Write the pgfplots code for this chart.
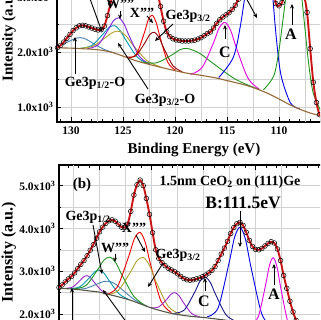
\documentclass[border=0pt]{standalone}
\usepackage{fontspec}
\setmainfont{Liberation Serif}
\usepackage{pgfplots}
\usepackage{pgfplotstable}
\pgfplotsset{compat=1.18}
\usetikzlibrary{arrows.meta}

\definecolor{envred}{RGB}{205,20,20}
\definecolor{bgbrown}{RGB}{150,105,55}
\definecolor{bggray}{RGB}{85,85,70}
\definecolor{steel}{RGB}{70,130,180}
\definecolor{tealc}{RGB}{0,150,175}
\definecolor{violetc}{RGB}{130,30,220}
\definecolor{olivec}{RGB}{175,160,40}
\definecolor{redc}{RGB}{240,0,0}
\definecolor{darkredc}{RGB}{140,0,0}
\definecolor{greenc}{RGB}{30,150,30}
\definecolor{magc}{RGB}{230,0,230}
\definecolor{bluec}{RGB}{0,0,230}
\definecolor{navyc}{RGB}{25,25,140}
\definecolor{purplec}{RGB}{160,40,200}

\pgfplotstableread{
E V
131.3 2080
131.0 2120
130.7 2180
130.4 2250
130.1 2320
129.8 2390
129.5 2440
129.2 2475
128.9 2485
128.6 2475
128.3 2455
128.0 2435
127.7 2415
127.4 2400
127.1 2405
126.8 2470
126.5 2660
126.2 2880
125.9 3100
125.6 3270
125.3 3340
125.0 3330
124.7 3240
124.4 3130
124.1 3050
123.8 3000
123.5 3010
123.2 3060
122.9 3170
122.6 3300
122.3 3380
122.0 3330
121.7 3100
121.4 2830
121.1 2560
120.8 2370
120.5 2280
120.2 2240
119.9 2220
119.6 2210
119.3 2200
119.0 2200
118.7 2200
118.4 2205
118.1 2215
117.8 2235
117.5 2260
117.2 2295
116.9 2335
116.6 2365
116.3 2435
116.0 2520
115.7 2585
115.4 2635
115.1 2675
114.8 2715
114.5 2775
114.2 2850
113.9 2960
113.6 3090
113.3 3260
113.0 3520
112.7 3860
112.4 4180
112.1 4420
111.8 4570
111.5 4570
111.2 4330
110.9 3850
110.6 3280
110.3 2880
110.0 2840
109.7 2900
109.4 3150
109.1 3500
108.8 3780
108.5 3860
108.2 3700
107.9 3400
107.6 3050
107.3 2720
107.0 2060
106.7 1450
106.4 1080
106.1 860
105.8 800
}\topdata

\pgfplotstableread{
E V
128.9 2620
128.6 2680
128.3 2750
128.0 2820
127.7 2880
127.4 2960
127.1 3060
126.8 3160
126.5 3250
126.2 3360
125.9 3490
125.6 3620
125.3 3770
125.0 3920
124.7 4030
124.4 4120
124.1 4180
123.8 4200
123.5 4170
123.2 4100
122.9 4030
122.6 4020
122.3 4100
122.0 4400
121.7 4780
121.4 5020
121.1 5130
120.8 5000
120.5 4700
120.2 4330
119.9 3900
119.6 3500
119.3 3300
119.0 3200
118.7 3130
118.4 3070
118.1 3030
117.8 2990
117.5 2940
117.2 2880
116.9 2830
116.6 2800
116.3 2790
116.0 2800
115.7 2820
115.4 2840
115.1 2870
114.8 2910
114.5 2960
114.2 3020
113.9 3110
113.6 3250
113.3 3400
113.0 3540
112.7 3700
112.4 3880
112.1 4020
111.8 4110
111.5 4140
111.2 4070
110.9 3910
110.6 3720
110.3 3580
110.0 3510
109.7 3500
109.4 3530
109.1 3590
108.8 3650
108.5 3690
108.2 3660
107.9 3520
107.6 3250
107.3 2900
107.0 2600
106.7 2300
106.4 2050
106.1 1850
105.8 1680
105.5 1560
105.2 1480
104.9 1440
}\botdata

\pgfplotsset{
  xpsaxis/.style={
    scale only axis, x dir=reverse,
    axis line style={line width=1.3pt},
    tick style={line width=0.8pt, black},
    major tick length=4.5pt, minor tick length=2.5pt,
    xtick={110,115,120,125,130},
    minor xtick={103,104,...,132},
    minor y tick num=1,
    xmajorgrids=true, ymajorgrids=true, yminorgrids=true,
    grid style={line width=0.4pt, black!18},
    minor grid style={line width=0.4pt, black!18},
    extra x ticks={107.5,112.5,117.5,122.5,127.5},
    extra x tick labels={},
    extra x tick style={grid=major, major tick length=0pt},
    tick label style={font=\fontsize{11.5}{13}\selectfont\bfseries},
    label style={font=\fontsize{15}{17}\selectfont\bfseries},
    every axis plot/.append style={line join=round},
  },
  comp/.style={smooth, line width=0.9pt, no markers},
  env/.style={smooth, color=envred, line width=1.9pt, no markers},
  dat/.style={only marks, mark=o, mark size=2.4pt, mark options={line width=0.5pt, black}},
}

\begin{document}
\begin{tikzpicture}
\useasboundingbox (0pt,0pt) rectangle (320pt,320pt);
\clip (0pt,0pt) rectangle (320pt,320pt);

% ---------------- top panel (a) ----------------
\begin{axis}[xpsaxis,
  at={(57pt,198pt)}, anchor=south west,
  width=274pt, height=174.5pt,
  xmin=105, xmax=131.35, ymin=727, ymax=3900,
  xticklabels={110,115,120,125,130},
  xticklabel style={yshift=-1pt},
  ytick={1000,2000,3000},
  yticklabels={1.0x10\textsuperscript{3},2.0x10\textsuperscript{3},3.0x10\textsuperscript{3}},
  xlabel={Binding Energy (eV)},
  xlabel style={yshift=-2pt},
  ylabel={Intensity (a.u.)},
  ylabel style={at={(axis description cs:-0.175,0.5)}, anchor=center},
]
\addplot[comp, color=steel] coordinates {(131.35,2099) (130.2,2192) (129.65,2242) (129.1,2261) (128.55,2232) (128.0,2171) (126.9,2054) (125.8,1980)};
\addplot[comp, color=tealc] coordinates {(129.1,2066) (128.0,2118) (126.9,2330) (126.35,2446) (125.8,2478) (125.25,2381) (124.7,2207) (123.6,1901) (122.5,1780)};
\addplot[comp, color=olivec] coordinates {(129.2,2067) (127.9,2106) (126.6,2275) (125.95,2360) (125.3,2375) (124.65,2279) (124.0,2116) (122.7,1843) (121.4,1728)};
\addplot[comp, color=violetc] coordinates {(128.4,2061) (127.4,2129) (126.4,2414) (125.9,2573) (125.4,2621) (124.9,2509) (124.4,2289) (123.4,1913) (122.4,1777)};
\addplot[comp, color=redc] coordinates {(124.45,1896) (123.7,1961) (122.95,2349) (122.575,2582) (122.2,2670) (121.825,2545) (121.45,2277) (120.7,1815) (119.95,1668)};
\addplot[comp, color=darkredc] coordinates {(124.7,1911) (123.8,1927) (122.9,2165) (122.45,2311) (122.0,2360) (121.55,2268) (121.1,2079) (120.2,1752) (119.3,1639)};
\addplot[comp, color=greenc] coordinates {(123.3,1821) (121.8,1802) (120.3,1946) (119.55,2039) (118.8,2064) (117.65,1977) (116.5,1816) (114.2,1505) (111.9,1317)};
\addplot[comp, color=magc] coordinates {(118.5,1593) (117.4,1716) (116.3,2167) (115.75,2441) (115.2,2538) (114.65,2393) (114.1,2078) (113.0,1529) (111.9,1324)};
\addplot[comp, color=bluec] coordinates {(115.8,1534) (114.4,1900) (113.7,2491) (113.0,3386) (112.3,4260) (111.6,4588) (111.15,4164) (110.7,3218) (110.25,2240) (109.8,1572) (108.9,1074) (108.0,965)};
\addplot[comp, color=greenc] coordinates {(111.5,1310) (110.5,1567) (110.0,2038) (109.5,2763) (109.0,3472) (108.5,3753) (108.05,3391) (107.6,2600) (107.15,1793) (106.7,1247) (105.8,862)};
\addplot[comp, color=bgbrown, line width=1.1pt] coordinates {(131.35,2075) (130,2070) (129,2060) (128,2050) (127,2030) (126,1990) (125,1925) (124,1855) (123,1800) (122,1750) (121,1705) (120,1660) (119,1620) (118,1590) (117,1560) (116,1525) (115,1480) (114,1435) (113,1385) (112,1320) (111,1240) (110,1145) (109,1045) (108,960) (107,890) (106,840) (105,800)};
\addplot[env] table[x=E,y=V] {\topdata};
\addplot[dat] table[x=E,y=V] {\topdata};
\end{axis}

% ---------------- bottom panel (b) ----------------
\begin{axis}[xpsaxis,
  at={(59pt,-19.7pt)}, anchor=south west,
  width=269.4pt, height=174.6pt,
  xmin=103, xmax=128.9, ymin=1400, ymax=5480,
  xticklabels={},
  ytick={2000,3000,4000,5000},
  yticklabels={2.0x10\textsuperscript{3},3.0x10\textsuperscript{3},4.0x10\textsuperscript{3},5.0x10\textsuperscript{3}},
  ylabel={Intensity (a.u.)},
  ylabel style={at={(axis description cs:-0.186,0.5)}, anchor=center, font=\fontsize{16}{18}\selectfont\bfseries},
]
\addplot[comp, color=purplec] coordinates {(128.3,2600) (127.6,2629) (126.9,2779) (126.55,2866) (126.2,2896) (125.85,2844) (125.5,2737) (124.8,2545) (124.1,2460)};
\addplot[comp, color=tealc] coordinates {(127.85,2593) (126.9,2637) (125.95,2854) (125.475,2983) (125.0,3030) (124.525,2941) (124.05,2768) (123.1,2466) (122.15,2336)};
\addplot[comp, color=steel] coordinates {(127.6,2585) (126.4,2594) (125.2,2704) (124.6,2760) (124.0,2760) (123.4,2688) (122.8,2564) (121.6,2326) (120.4,2179)};
\addplot[comp, color=greenc] coordinates {(127.45,2589) (126.3,2668) (125.15,3049) (124.575,3261) (124.0,3330) (123.425,3193) (122.85,2914) (121.7,2412) (120.55,2190)};
\addplot[comp, color=redc] coordinates {(124.4,2444) (123.3,2628) (122.2,3347) (121.65,3762) (121.1,3909) (120.6,3668) (120.1,3162) (119.1,2303) (118.1,2034)};
\addplot[comp, color=olivec] coordinates {(124.4,2438) (123.2,2552) (122.0,2993) (121.4,3246) (120.8,3322) (120.2,3138) (119.6,2771) (118.4,2178) (117.2,1990)};
\addplot[comp, color=purplec] coordinates {(120.15,2151) (119.35,2161) (118.55,2341) (118.15,2460) (117.75,2500) (117.35,2426) (116.95,2271) (116.15,2013) (115.35,1933)};
\addplot[comp, color=navyc] coordinates {(117.85,2017) (116.85,2095) (115.85,2513) (115.35,2765) (114.85,2865) (114.35,2738) (113.85,2461) (112.85,1983) (111.85,1825)};
\addplot[comp, color=bluec] coordinates {(114.65,1934) (113.6,2146) (112.55,3194) (112.025,3789) (111.5,4030) (110.975,3747) (110.45,3105) (109.4,2002) (108.35,1667)};
\addplot[comp, color=magc] coordinates {(110.46,1772) (109.74,1937) (109.02,2699) (108.66,3143) (108.3,3318) (107.94,3099) (107.58,2613) (106.86,1778) (106.14,1527)};
\addplot[comp, color=bggray, line width=1.1pt] coordinates {(128.9,2600) (128,2590) (127,2570) (126,2540) (125,2510) (124,2450) (123,2390) (122,2320) (121,2230) (120,2140) (119,2070) (118,2010) (117,1970) (116,1940) (115,1920) (114,1890) (113,1860) (112,1820) (111,1780) (110,1730) (109,1680) (108,1620) (107,1560) (106,1500) (105,1450) (104,1400) (103,1370)};
\addplot[env] table[x=E,y=V] {\botdata};
\addplot[dat] table[x=E,y=V] {\botdata};
\end{axis}

% ---------------- annotations ----------------
\begin{scope}[x=1pt,y=1pt]
\tikzset{lab/.style={font=\fontsize{14}{16}\selectfont\bfseries, inner sep=0pt},
         arr/.style={-{Stealth[length=4.5pt,width=4pt]}, line width=0.9pt, black}}
% top panel
\node[lab] at (120,316) {W''''};
\draw[arr] (120,309) -- (120,301);
\node[lab] at (142,307) {X''''};
\draw[arr] (147,304) -- (153,297);
\node[lab] at (188,304) {Ge3p\textsubscript{3/2}};
\draw[arr] (173,296) -- (155,279);
\node[lab, font=\fontsize{16}{18}\selectfont\bfseries] at (225,268) {C};
\draw[arr] (225,281) -- (225,295);
\node[lab, font=\fontsize{16}{18}\selectfont\bfseries] at (291,286) {A};
\draw[arr] (292,295) -- (292,316);
\draw[arr] (245,324) -- (257,302);
\draw[arr] (89,324) -- (102,288);
\node[lab] at (95,237) {Ge3p\textsubscript{1/2}-O};
\draw[arr] (75,246) -- (75,283);
\node[lab] at (165,220) {Ge3p\textsubscript{3/2}-O};
\draw[arr] (148,231) -- (118,277);
% bottom panel
\node[lab, font=\fontsize{15}{17}\selectfont\bfseries] at (82,135) {(b)};
\node[lab] at (230,138) {1.5nm CeO\textsubscript{2} on (111)Ge};
\node[lab, font=\fontsize{17.5}{19}\selectfont\bfseries] at (243,117) {B:111.5eV};
\draw[arr] (240,109) -- (240,73);
\node[lab] at (88,103) {Ge3p\textsubscript{1/2}};
\draw[arr] (93,95) -- (102,46);
\node[lab] at (115,72) {W''''};
\draw[arr] (115,66) -- (115,58);
\node[lab] at (134,92) {X''''};
\draw[arr] (136,85) -- (145,68);
\node[lab] at (178,65) {Ge3p\textsubscript{3/2}};
\draw[arr] (163,57) -- (148,33);
\node[lab, font=\fontsize{16}{18}\selectfont\bfseries] at (204,19) {C};
\draw[arr] (205,29) -- (205,42);
\node[lab, font=\fontsize{16}{18}\selectfont\bfseries] at (274,26) {A};
\draw[arr] (274,35) -- (274,56);
\draw[arr] (72,-5) -- (72,32);
\draw[arr] (127,-3) -- (103,30);
\end{scope}
\end{tikzpicture}
\end{document}
